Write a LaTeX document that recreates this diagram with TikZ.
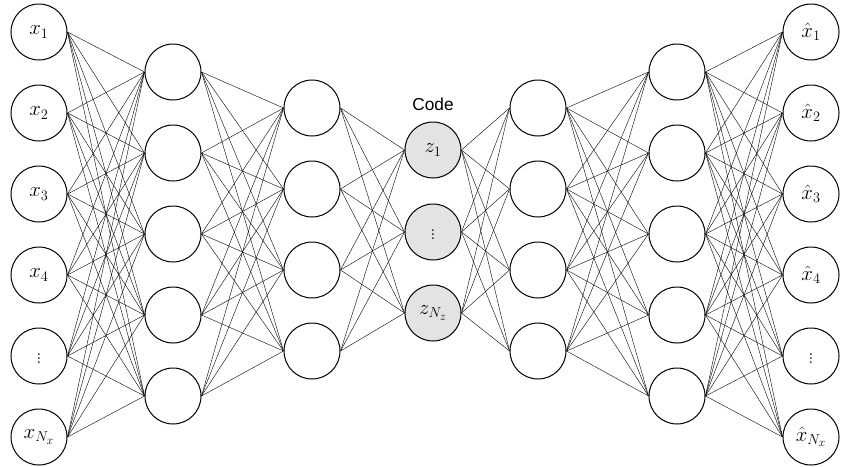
\documentclass[tikz,border=0pt]{standalone}
\usepackage{amsmath}
\usepackage{amssymb}
\usepackage{fontspec}
\newfontfamily\sansfont{Liberation Sans}

\begin{document}
\begin{tikzpicture}[x=1pt, y=-1pt,
    neuron/.style={circle, draw, line width=1pt, minimum size=56pt, inner sep=0pt, font=\huge},
    code/.style={neuron, fill=gray!22},
    link/.style={line width=0.4pt}]
        \useasboundingbox (0, 0) rectangle (850, 466);

        % input layer
        \node[neuron] (a1) at (39, 32) {$x_1$};
        \node[neuron] (a2) at (39, 113) {$x_2$};
        \node[neuron] (a3) at (39, 194) {$x_3$};
        \node[neuron] (a4) at (39, 275) {$x_4$};
        \node[neuron] (a5) at (39, 356) {$\boldsymbol{\vdots}$};
        \node[neuron] (a6) at (39, 437) {$x_{N_x}$};

        % encoder
        \foreach \i in {1,...,5}
            \node[neuron] (b\i) at (173, {72 + 81*(\i-1)}) {};
        \foreach \i in {1,...,4}
            \node[neuron] (c\i) at (312, {108 + 81*(\i-1)}) {};

        % code
        \node[code] (d1) at (433, 150) {$z_1$};
        \node[code] (d2) at (433, 232) {$\boldsymbol{\vdots}$};
        \node[code] (d3) at (433, 313) {$z_{N_z}$};
        \node[font=\sansfont\LARGE] (codelabel) at (433, 104) {Code};

        % decoder
        \foreach \i in {1,...,4}
            \node[neuron] (e\i) at (538, {108 + 81*(\i-1)}) {};
        \foreach \i in {1,...,5}
            \node[neuron] (f\i) at (677, {72 + 81*(\i-1)}) {};

        % output layer
        \node[neuron] (g1) at (811, 32) {$\hat{x}_1$};
        \node[neuron] (g2) at (811, 113) {$\hat{x}_2$};
        \node[neuron] (g3) at (811, 194) {$\hat{x}_3$};
        \node[neuron] (g4) at (811, 275) {$\hat{x}_4$};
        \node[neuron] (g5) at (811, 356) {$\boldsymbol{\vdots}$};
        \node[neuron] (g6) at (811, 437) {$\hat{x}_{N_x}$};

        \foreach \i in {1,...,6}
            \foreach \j in {1,...,5} {
                \draw[link] (a\i.east) -- (b\j.west);
                \draw[link] (f\j.east) -- (g\i.west);
            }
        \foreach \i in {1,...,5}
            \foreach \j in {1,...,4} {
                \draw[link] (b\i.east) -- (c\j.west);
                \draw[link] (e\j.east) -- (f\i.west);
            }
        \foreach \i in {1,...,4}
            \foreach \j in {1,...,3} {
                \draw[link] (c\i.east) -- (d\j.west);
                \draw[link] (d\j.east) -- (e\i.west);
            }
    \end{tikzpicture}
\end{document}
